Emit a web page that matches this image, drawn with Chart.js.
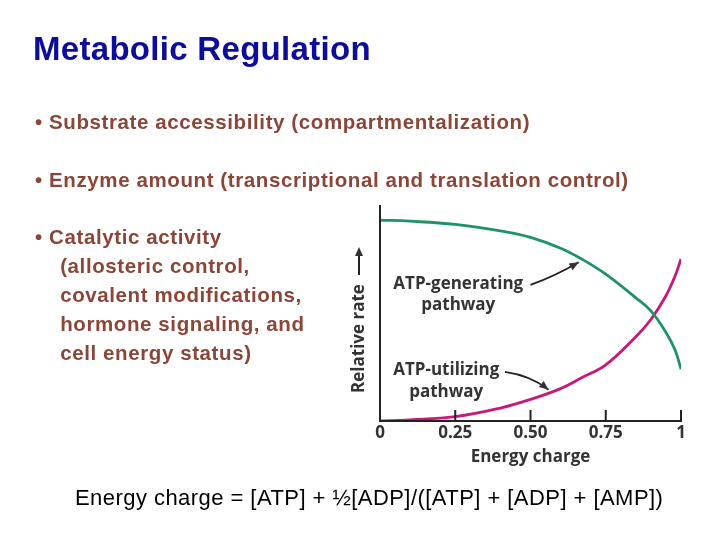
<!DOCTYPE html>
<html><head><meta charset="utf-8">
<script src="https://cdn.jsdelivr.net/npm/chart.js@4"></script>
<style>
body{margin:0;width:720px;height:540px;background:#fff;font-family:"Liberation Sans",Arial,sans-serif;position:relative;overflow:hidden}
#c{position:absolute;left:0;top:0}
.t{position:absolute;white-space:nowrap}
.b{color:#8a4638;font-weight:bold;font-size:20.5px;line-height:29px;letter-spacing:0.6px}
</style></head><body>
<canvas id="c" width="720" height="540"></canvas>
<div class="t" style="left:33px;top:30px;font-size:33px;font-weight:bold;color:#0d0d99;letter-spacing:0.3px">Metabolic Regulation</div>
<div class="t b" style="left:35px;top:107px">• Substrate accessibility (compartmentalization)</div>
<div class="t b" style="left:35px;top:165px">• Enzyme amount (transcriptional and translation control)</div>
<div class="t b" style="left:35px;top:222px">• Catalytic activity<br>&nbsp;&nbsp;&nbsp;&nbsp;(allosteric control,<br>&nbsp;&nbsp;&nbsp;&nbsp;covalent modifications,<br>&nbsp;&nbsp;&nbsp;&nbsp;hormone signaling, and<br>&nbsp;&nbsp;&nbsp;&nbsp;cell energy status)</div>
<div class="t" style="left:75px;top:485px;font-size:22px;color:#000;letter-spacing:0.45px">Energy charge = [ATP] + ½[ADP]/([ATP] + [ADP] + [AMP])</div>
<script>
const energyCharge=[0,0.1,0.25,0.4,0.5,0.6,0.67,0.75,0.85,0.9,0.95,0.98,1.0];
const atpGenerating=[0.93,0.925,0.91,0.88,0.85,0.8,0.75,0.68,0.57,0.51,0.41,0.33,0.24];
const atpUtilizing=[0,0.005,0.02,0.06,0.1,0.15,0.2,0.26,0.39,0.47,0.58,0.67,0.75];
const xTicks=[0,0.25,0.5,0.75,1];
const xTickLabels=["0","0.25","0.50","0.75","1"];
const pts=a=>energyCharge.map((x,i)=>({x,y:a[i]}));
const deco={id:'deco',afterDatasetsDraw(ch){
 const c=ch.ctx,xs=ch.scales.x,ys=ch.scales.y,a=ch.chartArea;
 c.save();c.strokeStyle='#222';c.lineWidth=2;
 c.beginPath();c.moveTo(a.left,a.top);c.lineTo(a.left,a.bottom);c.lineTo(a.right+1,a.bottom);c.stroke();
 c.fillStyle='#333';c.font='bold 17px "Open Sans",sans-serif';c.textAlign='center';c.textBaseline='top';
 xTicks.forEach((v,i)=>{const px=xs.getPixelForValue(v);
  if(v>0){c.beginPath();c.moveTo(px,a.bottom);c.lineTo(px,a.bottom-11);c.stroke();}
  c.fillText(xTickLabels[i],px,a.bottom+4);});
 c.fillText('Energy charge',xs.getPixelForValue(0.5),a.bottom+28);
 c.save();c.translate(a.left-21,ys.getPixelForValue(0.13));c.rotate(-Math.PI/2);
 c.textAlign='left';c.textBaseline='middle';c.fillText('Relative rate',0,0);
 c.beginPath();c.moveTo(118,0);c.lineTo(140,0);c.stroke();
 c.beginPath();c.moveTo(146,0);c.lineTo(137,-4);c.lineTo(137,4);c.closePath();c.fill();
 c.restore();
 c.textAlign='center';c.textBaseline='middle';
 c.fillText('ATP-generating',xs.getPixelForValue(0.26),ys.getPixelForValue(0.635));
 c.fillText('pathway',xs.getPixelForValue(0.26),ys.getPixelForValue(0.535));
 c.fillText('ATP-utilizing',xs.getPixelForValue(0.22),ys.getPixelForValue(0.235));
 c.fillText('pathway',xs.getPixelForValue(0.22),ys.getPixelForValue(0.135));
 const arrow=(x1,y1,cx,cy,x2,y2)=>{const p=v=>[xs.getPixelForValue(v[0]),ys.getPixelForValue(v[1])];
  const[a1,b1]=p([x1,y1]),[a2,b2]=p([cx,cy]),[a3,b3]=p([x2,y2]);
  c.lineWidth=1.8;c.beginPath();c.moveTo(a1,b1);c.quadraticCurveTo(a2,b2,a3,b3);c.stroke();
  const ang=Math.atan2(b3-b2,a3-a2);c.beginPath();c.moveTo(a3,b3);
  c.lineTo(a3-10*Math.cos(ang-0.4),b3-10*Math.sin(ang-0.4));c.lineTo(a3-10*Math.cos(ang+0.4),b3-10*Math.sin(ang+0.4));c.closePath();c.fill();};
 arrow(0.5,0.63,0.58,0.67,0.66,0.735);
 arrow(0.415,0.227,0.5,0.21,0.56,0.145);
 c.restore();}};
new Chart(document.getElementById('c'),{type:'line',
 data:{datasets:[
  {data:pts(atpGenerating),borderColor:'#1e9466',borderWidth:2.8,pointRadius:0,tension:0.4},
  {data:pts(atpUtilizing),borderColor:'#c8197a',borderWidth:2.8,pointRadius:0,tension:0.4}]},
 options:{responsive:false,animation:false,layout:{padding:{left:380,right:39,top:205,bottom:119}},
  plugins:{legend:{display:false},tooltip:{enabled:false}},
  scales:{x:{type:'linear',min:0,max:1,display:false},y:{min:0,max:1,display:false}}},
 plugins:[deco]});
</script></body></html>
